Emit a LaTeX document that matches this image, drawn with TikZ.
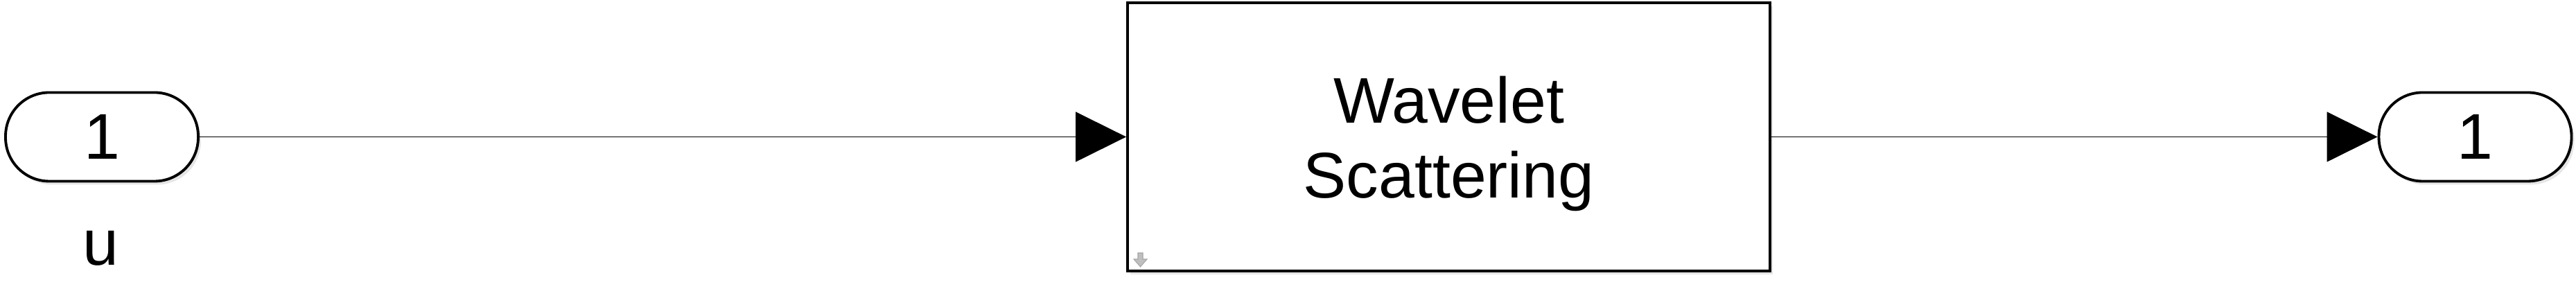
\documentclass[tikz,border=0pt]{standalone}
\usepackage{fontspec}
\setmainfont{Liberation Sans}
\usetikzlibrary{arrows.meta, positioning, shadows}
\tikzset{>={Triangle[length=0.73cm,width=0.72cm,color=black]}}
\tikzset{
  port/.style={draw, line width=1.1pt, fill=white, rounded corners=0.63cm,
    minimum width=2.78cm, minimum height=1.28cm, inner sep=0pt,
    drop shadow={shadow xshift=0.04cm, shadow yshift=-0.05cm, opacity=0.2}},
  block/.style={draw, line width=1.1pt, fill=white,
    minimum width=9.27cm, minimum height=3.87cm, inner sep=0pt,
    drop shadow={shadow xshift=0.04cm, shadow yshift=-0.05cm, opacity=0.2}},
  wire/.style={line width=0.45pt, black}
}

\begin{document}
\begin{tikzpicture}[font=\fontsize{26.5}{30.7}\selectfont]
          \useasboundingbox (0, 0) rectangle (37.17, -4.17);
          \node [port] (inport) at (1.47, -1.975) {1};
          \node [anchor=base] (ulabel) at (1.45, -3.83) {u};
          \node [block] (scatter) at (20.905, -1.975) {};
          \node [align=center] (title) at ([yshift=-0.1cm]scatter.center) {Wavelet\\Scattering};
          \node [port] (outport) at (35.715, -1.975) {1};
          \draw [wire, ->] (inport.east) -- (scatter.west);
          \draw [wire, ->] (scatter.east) -- (outport.west);
          % small gray marker in the block corner
          \filldraw [fill=black!25, draw=black!35, line width=0.3pt] (16.42, -3.65) -- (16.49, -3.65) -- (16.49, -3.74) -- (16.55, -3.74) -- (16.455, -3.85) -- (16.36, -3.74) -- (16.42, -3.74) -- cycle;
        \end{tikzpicture}
\end{document}
